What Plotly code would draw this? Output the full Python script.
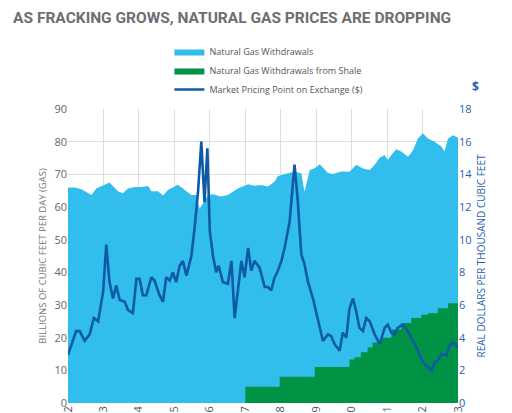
import plotly.graph_objects as go

total_x = [2002.00,2002.19,2002.38,2002.66,2002.80,2003.03,2003.17,2003.41,2003.55,2003.69,2003.88,2004.07,2004.26,2004.35,2004.54,2004.68,2004.82,2005.10,2005.29,2005.48,2005.62,2005.71,2005.80,2005.95,2006.09,2006.32,2006.51,2006.79,2007.08,2007.26,2007.45,2007.64,2007.83,2007.92,2008.20,2008.39,2008.58,2008.67,2008.82,2008.96,2009.10,2009.24,2009.33,2009.47,2009.71,2009.94,2010.13,2010.32,2010.51,2010.65,2010.79,2010.93,2011.02,2011.12,2011.26,2011.40,2011.59,2011.73,2011.87,2012.01,2012.15,2012.34,2012.53,2012.62,2012.72,2012.86,2013.00]
total_y = [66,66,65.4,63.7,65.7,66.8,67.5,64.8,64.2,65.7,66.1,66.1,66.4,64.8,64.8,63.5,65.2,66.8,65.3,63.7,63.7,59.5,61,63.7,63.9,63.2,63.7,65.7,67,66.5,66.7,66.3,67.8,69.5,70.3,70.8,70.3,64.7,71.3,71.9,73.1,71.4,70.4,70.1,70.9,70.8,72.9,71.8,71.3,72.9,75.1,75.9,74.4,75.9,77.7,77.0,75.4,77.4,81,82.6,81,80,78.5,77,81,82,81.2]

shale_x = [2007.0,2007.97,2008.96,2009.94,2010.08,2010.26,2010.45,2010.59,2010.83,2011.12,2011.40,2011.68,2011.97,2012.15,2012.43,2012.72,2013.0]
shale_y = [5,8,11,13.3,14,15.5,17,18.5,20,22.5,24.5,26,27,27.5,29,30.5,30]

price_x = [2002.00,2002.14,2002.23,2002.33,2002.47,2002.61,2002.73,2002.85,2002.99,2003.08,2003.17,2003.27,2003.36,2003.46,2003.60,2003.69,2003.83,2003.93,2004.02,2004.11,2004.21,2004.35,2004.44,2004.58,2004.68,2004.77,2004.87,2004.96,2005.05,2005.15,2005.24,2005.34,2005.48,2005.57,2005.67,2005.76,2005.85,2005.93,2006.00,2006.09,2006.18,2006.25,2006.37,2006.51,2006.61,2006.70,2006.79,2006.89,2006.98,2007.08,2007.17,2007.26,2007.40,2007.55,2007.64,2007.73,2007.83,2007.92,2008.02,2008.11,2008.25,2008.39,2008.48,2008.58,2008.67,2008.77,2008.91,2009.05,2009.19,2009.33,2009.42,2009.52,2009.66,2009.75,2009.85,2009.94,2010.04,2010.13,2010.22,2010.32,2010.41,2010.51,2010.65,2010.79,2010.93,2011.02,2011.12,2011.21,2011.30,2011.44,2011.59,2011.73,2011.87,2012.01,2012.15,2012.26,2012.34,2012.43,2012.53,2012.67,2012.76,2012.86,2013.00]
price_y = [2.95,3.8,4.4,4.4,3.8,4.2,5.2,5.0,6.8,9.7,7.4,6.4,7.2,6.3,6.2,5.7,5.5,7.6,7.6,6.6,6.6,7.7,7.5,6.6,6.2,7.7,7.5,8.0,7.4,8.4,8.7,7.8,9.0,10.7,13.0,16.0,12.3,15.6,10.5,9.0,8.0,8.4,7.4,7.3,8.7,5.2,6.8,8.7,7.7,9.5,8.1,8.7,8.3,7.1,7.1,6.9,7.7,8.1,8.7,9.5,11.1,14.6,12.4,9.1,8.5,7.4,6.4,5.0,3.8,4.2,4.1,3.6,3.2,4.3,4.0,5.8,6.4,5.6,4.6,4.4,5.2,5.0,4.2,3.6,4.6,4.8,4.3,4.2,4.6,4.8,4.4,3.8,3.2,2.5,2.2,2.0,2.5,2.6,3.0,2.9,3.5,3.7,3.4]

years = list(range(2002, 2014))
year_labels = [str(y) for y in years]

fig = go.Figure()
fig.add_trace(go.Scatter(x=total_x, y=total_y, name="Natural Gas Withdrawals", mode="lines",
                         line=dict(width=0, color="#31BEEC"), fill="tozeroy", fillcolor="#31BEEC"))
fig.add_trace(go.Scatter(x=shale_x, y=shale_y, name="Natural Gas Withdrawals from Shale", mode="lines",
                         line=dict(width=0, color="#009245", shape="hv"), fill="tozeroy", fillcolor="#009245"))
fig.add_trace(go.Scatter(x=price_x, y=price_y, name="Market Pricing Point on Exchange ($)", mode="lines",
                         line=dict(width=2.6, color="#0F5AA5"), yaxis="y2"))

font = "Open Sans"
fig.update_layout(
    width=512, height=413, paper_bgcolor="white", plot_bgcolor="white",
    margin=dict(l=60, r=62, t=101, b=18),
    font=dict(family=font, color="#777777", size=11),
    title=dict(text="<b>AS FRACKING GROWS, NATURAL GAS PRICES ARE DROPPING</b>", x=0.01, xanchor="left",
               y=0.99, yanchor="top", font=dict(size=15.5, color="#6d6e70", family="Roboto")),
    showlegend=True,
    legend=dict(x=0.26, y=1.245, xanchor="left", yanchor="top", bgcolor="rgba(0,0,0,0)",
                font=dict(size=9, color="#555555"), itemwidth=30, tracegroupgap=2),
    xaxis=dict(range=[2002, 2013], tickvals=years, ticktext=year_labels, tickangle=-90, automargin=False,
               showgrid=True, gridcolor="#dddddd", zeroline=False, ticks="",
               tickfont=dict(size=11, color="#555555"), showline=False),
    yaxis=dict(range=[0, 90], dtick=10, showgrid=True, gridcolor="#dddddd", zeroline=False, automargin=False,
               title=dict(text="BILLIONS OF CUBIC FEET PER DAY (GAS)", font=dict(size=9.5, color="#777777"), standoff=6),
               tickfont=dict(size=11, color="#666666")),
    yaxis2=dict(range=[0, 18], dtick=2, overlaying="y", side="right", showgrid=False, zeroline=False, automargin=False,
                title=dict(text="REAL DOLLARS PER THOUSAND CUBIC FEET", font=dict(size=10, color="#1F63AE"), standoff=6),
                tickfont=dict(size=11, color="#1F63AE")),
    annotations=[dict(text="<b>$</b>", xref="paper", yref="paper", x=1.03, y=1.04, xanchor="left",
                      yanchor="bottom", showarrow=False, font=dict(size=12, color="#1F63AE"))],
)
fig.write_html("out.html")
